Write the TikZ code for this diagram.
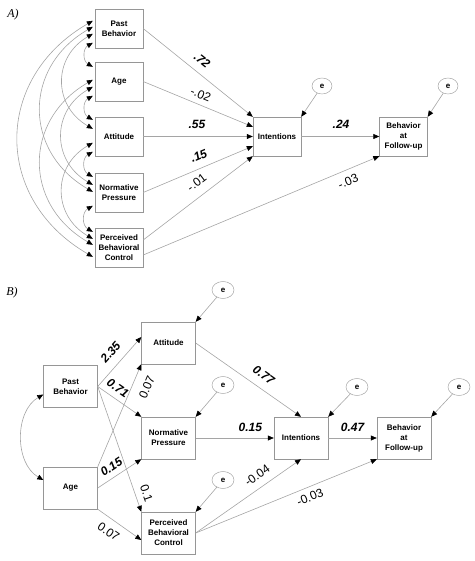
\documentclass[tikz,border=0pt]{standalone}
\usepackage{fontspec}
\setmainfont{Liberation Sans}
\newfontfamily\panelfont{Liberation Serif}
\usetikzlibrary{shapes,arrows.meta}

\definecolor{edgegray}{RGB}{165,165,165}
\definecolor{boxgray}{RGB}{150,150,150}

\tikzstyle{VA} = [rectangle, draw=boxgray, align=center, minimum width=48pt,
    minimum height=39pt, inner sep=1pt, font=\fontsize{8}{10}\selectfont\bfseries]
\tikzstyle{VB} = [VA, minimum width=54pt, minimum height=42pt]
\tikzstyle{err} = [ellipse, draw=boxgray, minimum width=20pt, minimum height=16pt,
    inner sep=0pt, font=\fontsize{8}{10}\selectfont\bfseries]
\tikzstyle{errB} = [err, minimum width=22pt, minimum height=17pt]
\tikzstyle{line} = [draw=edgegray, line width=0.6pt, -{Triangle[length=6pt,width=5pt,color=black]}]
\tikzstyle{cov} = [line, {Triangle[length=6pt,width=5pt,color=black]}-{Triangle[length=6pt,width=5pt,color=black]}]
\tikzstyle{covbend} = [bend right=60, looseness=1.25]
\tikzstyle{est} = [font=\fontsize{12}{13}\selectfont\bfseries\itshape, sloped, inner sep=1.5pt]
\tikzstyle{ns} = [font=\fontsize{12}{13}\selectfont, sloped, inner sep=1.5pt]
\tikzstyle{panel} = [font=\panelfont\fontsize{12}{14}\selectfont\itshape]

\begin{document}
\begin{tikzpicture}[x=1pt, y=-1pt]
 \useasboundingbox (0,0) rectangle (474,561);
 % A) -- full model
 \node at (13,15) [panel] (labA) {A)};
 \node at (119,28.5) [VA] (pbA) {Past\\Behavior};
 \node at (119,81.5) [VA] (ageA) {Age};
 \node at (119,136.5) [VA] (attA) {Attitude};
 \node at (119,192.5) [VA] (npA) {Normative\\Pressure};
 \node at (119,247.5) [VA] (pbcA) {Perceived\\Behavioral\\Control};
 \node [VA, right of=attA, node distance=158pt] (intA) {Intentions};
 \node [VA, right of=intA, node distance=126.5pt] (behA) {Behavior\\at\\Follow-up};
 \node at (322,86) [err] (eIntA) {e};
 \node at (448,86) [err] (eBehA) {e};
 \path [line] (pbA.east) -- node[est, above=6pt, pos=.47] {.72} (intA.north west);
 \path [line] (ageA.east) -- node[ns, above=4pt, pos=.49] {-.02} ([yshift=-10pt]intA.north west);
 \path [line] (attA.east) -- node[est, above=6pt, pos=.49] {.55} (intA.west);
 \path [line] (npA.east) -- node[est, above=6pt, pos=.55] {.15} ([yshift=10pt]intA.south west);
 \path [line] ([yshift=7.5pt]pbcA.east) -- node[ns, above=7pt, pos=.56] {-.01} (intA.south west);
 \path [line] ([yshift=-7.5pt]pbcA.east) -- node[ns, below=5pt, pos=.85] {-.03} (behA.south west);
 \path [line] (intA) -- node[est, above=6pt, pos=.51] {.24} (behA);
 \path [line] (eIntA) -- (intA.north east);
 \path [line] (eBehA) -- (behA.north east);
 % covariances among the predictors
 \path [cov] ([xshift=-2pt,yshift=-34pt]pbA.north west) to[covbend] ([xshift=-2pt,yshift=-5pt]ageA.north west);
 \path [cov] ([xshift=-2pt,yshift=-25pt]pbA.north west) to[covbend] ([xshift=-2pt,yshift=-12pt]attA.north west);
 \path [cov] ([xshift=-2pt,yshift=-18pt]pbA.north west) to[covbend] ([xshift=-2pt,yshift=-19pt]npA.north west);
 \path [cov] ([xshift=-2pt,yshift=-12pt]pbA.north west) to[covbend] ([xshift=-2pt,yshift=-29pt]pbcA.north west);
 \path [cov] ([xshift=-2pt,yshift=-34pt]ageA.north west) to[covbend] ([xshift=-2pt,yshift=-3pt]attA.north west);
 \path [cov] ([xshift=-2pt,yshift=-25pt]ageA.north west) to[covbend] ([xshift=-2pt,yshift=-12pt]npA.north west);
 \path [cov] ([xshift=-2pt,yshift=-18pt]ageA.north west) to[covbend] ([xshift=-2pt,yshift=-17pt]pbcA.north west);
 \path [cov] ([xshift=-2pt,yshift=-35pt]attA.north west) to[covbend] ([xshift=-2pt,yshift=-4pt]npA.north west);
 \path [cov] ([xshift=-2pt,yshift=-26pt]attA.north west) to[covbend] ([xshift=-2pt,yshift=-11pt]pbcA.north west);
 \path [cov] ([xshift=-2pt,yshift=-33pt]npA.north west) to[covbend] ([xshift=-2pt,yshift=-4pt]pbcA.north west);

 % B) -- mediated model
 \node at (12,293) [panel] (labB) {B)};
 \node at (70.5,386.5) [VB] (pbB) {Past\\Behavior};
 \node at (70.5,488) [VB] (ageB) {Age};
 \node at (168.5,343) [VB] (attB) {Attitude};
 \node at (168.5,438) [VB] (npB) {Normative\\Pressure};
 \node at (168.5,533) [VB] (pbcB) {Perceived\\Behavioral\\Control};
 \node [VB, right of=npB, node distance=132.5pt] (intB) {Intentions};
 \node [VB, right of=intB, node distance=103pt] (behB) {Behavior\\at\\Follow-up};
 \node at (223,290) [errB] (eAttB) {e};
 \node at (223,385) [errB] (eNpB) {e};
 \node at (223,480) [errB] (ePbcB) {e};
 \node at (357,387) [errB] (eIntB) {e};
 \node at (459,387) [errB] (eBehB) {e};
 \path [cov] ([yshift=-8pt]pbB.west) to[bend right=60] ([yshift=8pt]ageB.west);
 \path [line] (pbB.east) -- node[est, above=7pt, pos=.52] {2.35} ([yshift=6pt]attB.west);
 \path [line] (pbB.east) -- node[est, above=4pt, pos=.33] {0.71} (npB.north west);
 \path [line] (pbB.east) -- node[ns, above=5pt, pos=.88] {0.1} (pbcB.north west);
 \path [line] (ageB.north east) -- node[ns, below=8pt, pos=.83] {0.07} (attB.south west);
 \path [line] (ageB.east) -- node[est, above=4pt, pos=.44] {0.15} (npB.south west);
 \path [line] (ageB.south east) -- node[ns, below=6pt, pos=.41] {0.07} ([yshift=-7pt]pbcB.west);
 \path [line] (attB.east) -- node[est, above=7pt, pos=.575] {0.77} (intB.north);
 \path [line] (npB) -- node[est, above=5pt, pos=.7] {0.15} (intB);
 \path [line] (pbcB.east) -- node[ns, above=6pt, pos=.65] {-0.04} (intB.south);
 \path [line] (pbcB.east) -- node[ns, below=4pt, pos=.61] {-0.03} (behB.south west);
 \path [line] (intB) -- node[est, above=5pt] {0.47} (behB);
 \path [line] (eAttB) -- (attB.north east);
 \path [line] (eNpB) -- (npB.north east);
 \path [line] (ePbcB) -- (pbcB.north east);
 \path [line] (eIntB) -- (intB.north east);
 \path [line] (eBehB) -- (behB.north east);
\end{tikzpicture}
\end{document}
